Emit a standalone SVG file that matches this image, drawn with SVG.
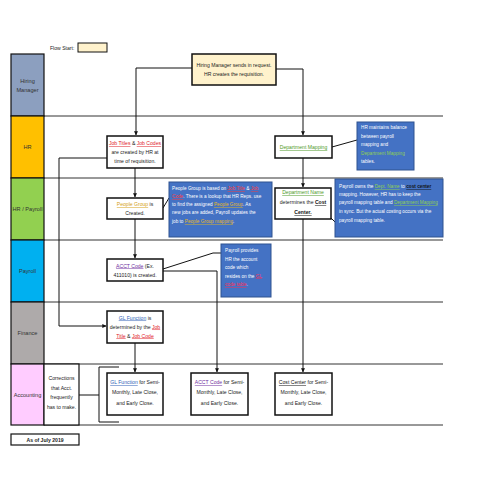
<svg xmlns="http://www.w3.org/2000/svg" width="495" height="495" viewBox="0 0 495 495">
<defs>
<marker id="ah" viewBox="0 0 6 6" refX="5.5" refY="3" markerWidth="4" markerHeight="4" orient="auto" markerUnits="userSpaceOnUse"><path d="M0,0 L6,3 L0,6 z" fill="#111"/></marker>
<style>
text{font-family:"Liberation Sans",Arial,sans-serif;font-size:5.1px;fill:#222}
.lane{stroke:#111;stroke-width:1.2}
.lt{text-anchor:middle;font-size:5.6px;fill:#333}
.sep{stroke:#333;stroke-width:1}
.box{fill:#fff;stroke:#111;stroke-width:1.5}
.note{fill:#4472C4;stroke:#2F528F;stroke-width:1}
.nt{fill:#fff;font-size:4.7px}
.c{text-anchor:middle}
.red{fill:#E0202A;text-decoration:underline}
.grn{fill:#4E9A28;text-decoration:underline}
.lg{fill:#92D050}
.org{fill:#D4A017;text-decoration:underline}
.pur{fill:#7030A0;text-decoration:underline}
.blu{fill:#2E5FB6;text-decoration:underline}
.bu{font-weight:bold;text-decoration:underline;fill:#111}
.cn{fill:none;stroke:#111;stroke-width:1}
</style>
</defs>
<rect width="495" height="495" fill="#fff"/>

<g id="flowstart">
<text x="50" y="50">Flow Start:</text>
<rect x="78" y="43" width="29" height="9" fill="#FFF2CC" stroke="#111" stroke-width="1"/>
</g>

<g id="separators">
<line class="sep" x1="44" y1="116" x2="443" y2="116"/>
<line class="sep" x1="44" y1="178" x2="443" y2="178"/>
<line class="sep" x1="44" y1="240" x2="443" y2="240"/>
<line class="sep" x1="44" y1="302" x2="443" y2="302"/>
<line class="sep" x1="44" y1="364" x2="443" y2="364"/>
<line class="sep" x1="44" y1="425" x2="443" y2="425"/>
</g>

<g id="lane-hiring"><rect class="lane" x="11" y="54" width="33" height="62" fill="#8C9FBF"/><text class="lt" x="27.5" y="83">Hiring</text><text class="lt" x="27.5" y="92">Manager</text></g>
<g id="lane-hr"><rect class="lane" x="11" y="116" width="33" height="62" fill="#FFC000"/><text class="lt" x="27.5" y="149">HR</text></g>
<g id="lane-hrpayroll"><rect class="lane" x="11" y="178" width="33" height="62" fill="#92D050"/><text class="lt" x="27.5" y="211">HR / Payroll</text></g>
<g id="lane-payroll"><rect class="lane" x="11" y="240" width="33" height="62" fill="#00B0F0"/><text class="lt" x="27.5" y="273">Payroll</text></g>
<g id="lane-finance"><rect class="lane" x="11" y="302" width="33" height="62" fill="#AEAAAA"/><text class="lt" x="27.5" y="335">Finance</text></g>
<g id="lane-accounting"><rect class="lane" x="11" y="364" width="33" height="61" fill="#FFCCFF"/><text class="lt" x="27.5" y="397">Accounting</text></g>

<g id="connectors">
<path class="cn" d="M192,68 H136 V135" marker-end="url(#ah)"/>
<path class="cn" d="M276,69 H303 V135" marker-end="url(#ah)"/>
<path class="cn" d="M107,158 H59 V326 H106" marker-end="url(#ah)"/>
<path class="cn" d="M135,168 V197" marker-end="url(#ah)"/>
<path class="cn" d="M135,219 V258" marker-end="url(#ah)"/>
<path class="cn" d="M163,271 H217 V372" marker-end="url(#ah)"/>
<path class="cn" d="M135,343 V372" marker-end="url(#ah)"/>
<path class="cn" d="M303,158 V187" marker-end="url(#ah)"/>
<path class="cn" d="M303,219 V372" marker-end="url(#ah)"/>
<path class="cn" d="M332,147 L357,140"/>
<path class="cn" d="M163,208 L169,198"/>
<path class="cn" d="M331,218 L335,222"/>
<path class="cn" d="M163,269 L213,253 H221"/>
<path class="cn" d="M79,395 H99"/>
<path class="cn" d="M119,367 H99 V422 H119"/>
</g>

<g id="hiring-request">
<rect x="192" y="54" width="84" height="31" fill="#FFF2CC" stroke="#111" stroke-width="1.5"/>
<text class="c" x="234" y="67">Hiring Manager sends in request.</text>
<text class="c" x="234" y="76">HR creates the requisition.</text>
</g>

<g id="job-titles">
<rect class="box" x="107" y="136" width="56" height="32"/>
<text class="c" x="135" y="145"><tspan class="red">Job Titles</tspan> &amp; <tspan class="red">Job Codes</tspan></text>
<text class="c" x="135" y="154">are created by HR at</text>
<text class="c" x="135" y="163">time of requisition.</text>
</g>

<g id="dept-mapping">
<rect class="box" x="275" y="136" width="57" height="22"/>
<text class="c" x="303.5" y="149"><tspan class="grn">Department Mapping</tspan></text>
</g>

<g id="note-dept-mapping">
<rect class="note" x="357" y="122" width="57" height="48"/>
<text class="nt" x="361" y="129">HR maintains balance</text>
<text class="nt" x="361" y="137.5">between payroll</text>
<text class="nt" x="361" y="146">mapping and</text>
<text class="nt lg" x="361" y="154.5">Department Mapping</text>
<text class="nt" x="361" y="163">tables.</text>
</g>

<g id="people-group">
<rect class="box" x="107" y="198" width="56" height="21"/>
<text class="c" x="135" y="206"><tspan class="org">People Group</tspan> is</text>
<text class="c" x="135" y="215">Created.</text>
</g>

<g id="note-people-group">
<rect class="note" x="169" y="182" width="103" height="55"/>
<text class="nt" x="172" y="190">People Group is based on <tspan fill="#FF3B3B" text-decoration="underline">Job Title</tspan> &amp; <tspan fill="#FF3B3B" text-decoration="underline">Job</tspan></text>
<text class="nt" x="172" y="198"><tspan fill="#FF3B3B" text-decoration="underline">Code</tspan>. There is a lookup that HR Reps. use</text>
<text class="nt" x="172" y="206">to find the assigned <tspan fill="#E8B923" text-decoration="underline">People Group</tspan>. As</text>
<text class="nt" x="172" y="214">new jobs are added, Payroll updates the</text>
<text class="nt" x="172" y="223">job to <tspan fill="#E8B923" text-decoration="underline">People Group mapping</tspan>.</text>
</g>

<g id="dept-name">
<rect class="box" x="275" y="188" width="56" height="31"/>
<text class="c" x="303" y="194"><tspan class="grn">Department Name</tspan></text>
<text class="c" x="303" y="204">determines the <tspan class="bu">Cost</tspan></text>
<text class="c" x="303" y="214"><tspan class="bu">Center.</tspan></text>
</g>

<g id="note-dept-name">
<rect class="note" x="335" y="179" width="108" height="58"/>
<text class="nt" x="339" y="188">Payroll owns the <tspan fill="#92D050" text-decoration="underline">Dept. Name</tspan> to <tspan font-weight="bold" fill="#111" text-decoration="underline">cost center</tspan></text>
<text class="nt" x="339" y="196">mapping. However, HR has to keep the</text>
<text class="nt" x="339" y="204">payroll mapping table and <tspan fill="#92D050" text-decoration="underline">Department Mapping</tspan></text>
<text class="nt" x="339" y="213">in sync. But the actual costing occurs via the</text>
<text class="nt" x="339" y="222">payroll mapping table.</text>
</g>

<g id="acct-code">
<rect class="box" x="107" y="259" width="56" height="22"/>
<text class="c" x="135" y="267.5"><tspan class="pur">ACCT Code</tspan> (Ex.</text>
<text class="c" x="135" y="276.5">411010) is created.</text>
</g>

<g id="note-acct-code">
<rect class="note" x="221" y="244" width="50" height="53"/>
<text class="nt" x="225" y="252">Payroll provides</text>
<text class="nt" x="225" y="260.5">HR the account</text>
<text class="nt" x="225" y="269">code which</text>
<text class="nt" x="225" y="277.5">resides on the <tspan fill="#FF2D55" text-decoration="underline">GL</tspan></text>
<text class="nt" x="225" y="286"><tspan fill="#FF2D55" text-decoration="underline">code table</tspan>.</text>
</g>

<g id="gl-function">
<rect class="box" x="107" y="311" width="56" height="32"/>
<text class="c" x="135" y="319.5"><tspan class="blu">GL Function</tspan> is</text>
<text class="c" x="135" y="328.5">determined by the <tspan class="red">Job</tspan></text>
<text class="c" x="135" y="337.5"><tspan class="red">Title</tspan> &amp; <tspan class="red">Job Code</tspan></text>
</g>

<g id="corrections">
<rect x="44" y="364" width="35" height="61" fill="#fff" stroke="#111" stroke-width="1.2"/>
<text class="c" x="61.5" y="380">Corrections</text>
<text class="c" x="61.5" y="389.5">that Acct.</text>
<text class="c" x="61.5" y="399">frequently</text>
<text class="c" x="61.5" y="408.5">has to make.</text>
</g>

<g id="acc-gl">
<rect class="box" x="107" y="373" width="56" height="42"/>
<text class="c" x="135" y="384"><tspan class="blu">GL Function</tspan> for Semi-</text>
<text class="c" x="135" y="394">Monthly, Late Close,</text>
<text class="c" x="135" y="404.5">and Early Close.</text>
</g>

<g id="acc-acct">
<rect class="box" x="191" y="373" width="57" height="42"/>
<text class="c" x="219.5" y="384"><tspan class="pur">ACCT Code</tspan> for  Semi-</text>
<text class="c" x="219.5" y="394">Monthly, Late Close,</text>
<text class="c" x="219.5" y="404.5">and Early Close.</text>
</g>

<g id="acc-cost">
<rect class="box" x="275" y="373" width="57" height="42"/>
<text class="c" x="303.5" y="384"><tspan fill="#111" text-decoration="underline">Cost Center</tspan> for Semi-</text>
<text class="c" x="303.5" y="394">Monthly, Late Close,</text>
<text class="c" x="303.5" y="404.5">and Early Close.</text>
</g>

<g id="asof">
<rect x="11" y="434" width="68" height="11" fill="#fff" stroke="#111" stroke-width="1.2"/>
<text class="c" x="45" y="441.5" font-weight="bold" fill="#111">As of July 2019</text>
</g>
</svg>
